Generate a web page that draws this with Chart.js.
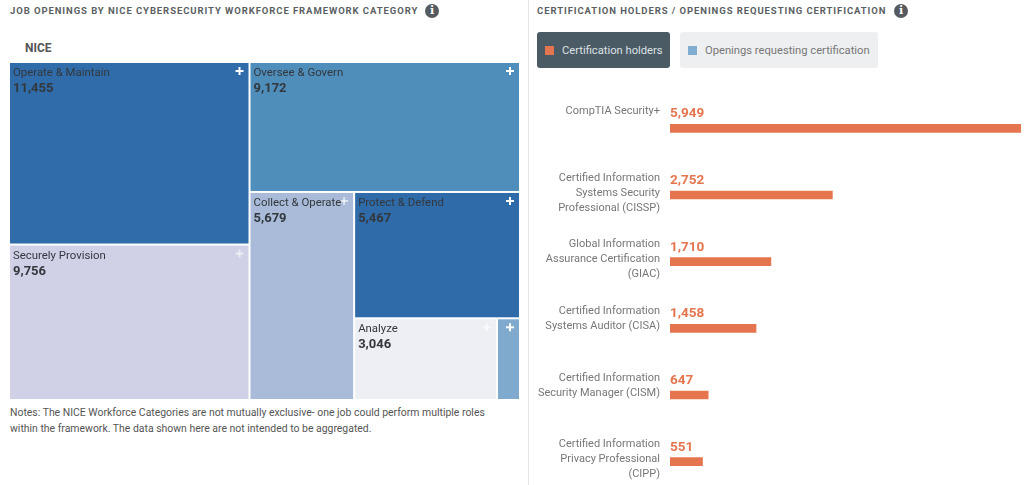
<!DOCTYPE html>
<html><head><meta charset="utf-8">
<script src="https://cdn.jsdelivr.net/npm/chart.js@4"></script>
<style>
html,body{margin:0;padding:0;background:#fff;width:1024px;height:485px;overflow:hidden;font-family:Roboto,sans-serif}
.abs{position:absolute;white-space:nowrap}
.title{font-size:9.5px;font-weight:700;letter-spacing:0.92px;color:#5b5f63;top:5px}
.info{width:14px;height:14px;border-radius:50%;background:#555b60;color:#fff;font:700 11px/14px "DejaVu Serif",serif;text-align:center;top:4px}
.btn{top:32px;height:36px;border-radius:3px;font-size:11.2px;line-height:37px}
.sw{width:9px;height:9px;top:46px}
canvas{position:absolute}
</style></head><body>
<div class="abs title" style="left:10px">JOB OPENINGS BY NICE CYBERSECURITY WORKFORCE FRAMEWORK CATEGORY</div>
<div class="abs info" style="left:425px">i</div>
<div class="abs" style="left:25px;top:41px;font-size:12px;font-weight:700;color:#555">NICE</div>
<div class="abs" style="left:10px;top:405px;font-size:10.45px;line-height:16px;color:#555">Notes: The NICE Workforce Categories are not mutually exclusive- one job could perform multiple roles<br>within the framework. The data shown here are not intended to be aggregated.</div>
<div class="abs" style="left:528px;top:0;width:1px;height:485px;background:#e6e6e6"></div>
<div class="abs title" style="left:537px">CERTIFICATION HOLDERS / OPENINGS REQUESTING CERTIFICATION</div>
<div class="abs info" style="left:894px">i</div>
<div class="abs btn" style="left:537px;width:133px;background:#4a5b66;color:#dde2e5"><span style="margin-left:25px">Certification holders</span></div>
<div class="abs sw" style="left:545px;background:#e5754f"></div>
<div class="abs btn" style="left:680px;width:198px;background:#eeeff1;color:#777"><span style="margin-left:25px">Openings requesting certification</span></div>
<div class="abs sw" style="left:688px;background:#7facd0"></div>
<canvas id="tree" style="left:9px;top:62px;width:511px;height:338px" width="511" height="338"></canvas>
<canvas id="bars" style="left:530px;top:95px;width:494px;height:400px" width="494" height="400"></canvas>
<script>
// Treemap data
const treeNames = ["Operate & Maintain","Securely Provision","Oversee & Govern","Collect & Operate","Protect & Defend","Analyze",""];
const treeValues = [11455,9756,9172,5679,5467,3046,490];
const treeColors = ["#2f6ca9","#d0d1e6","#4f8dba","#a9bbd8","#2e6ba8","#eeeef5","#80a9ce"];
const treePlusAlpha = [1,0.55,1,0.6,1,0.6,1];
// Bar data
const certLabels = [
  ["CompTIA Security+","",""],
  ["Certified Information","Systems Security","Professional (CISSP)"],
  ["Global Information","Assurance Certification","(GIAC)"],
  ["Certified Information","Systems Auditor (CISA)",""],
  ["Certified Information","Security Manager (CISM)",""],
  ["Certified Information","Privacy Professional","(CIPP)"]
];
const certHolders = [5949,2752,1710,1458,647,551];

// Slice-and-dice structure of the treemap: h = side by side, v = stacked
const treeShape = ['h',['v',0,1],['v',2,['h',3,['v',4,['h',5,6]]]]];
const sumOf = n => typeof n==='number' ? treeValues[n] : sumOf(n[1])+sumOf(n[2]);
const cells = [];
(function lay(n,x0,y0,x1,y1){
  if(typeof n==='number'){cells.push({i:n,x0,y0,x1,y1,x:x0,y:y0});return;}
  const f = sumOf(n[1])/sumOf(n);
  if(n[0]==='h'){const m=x0+(x1-x0)*f;lay(n[1],x0,y0,m,y1);lay(n[2],m,y0,x1,y1);}
  else{const m=y0+(y1-y0)*f;lay(n[1],x0,y0,x1,m);lay(n[2],x0,m,x1,y1);}
})(treeShape,0,0,1,1);

const treePlugin = {id:'treeCells',beforeDatasetsDraw(c){
  const g=c.ctx,sx=c.scales.x,sy=c.scales.y;
  cells.forEach(k=>{
    const l=sx.getPixelForValue(k.x0)+1,r=sx.getPixelForValue(k.x1)-1,
          t=sy.getPixelForValue(k.y0)+1,b=sy.getPixelForValue(k.y1)-1;
    g.fillStyle=treeColors[k.i];g.fillRect(l,t,r-l,b-t);
    g.save();g.globalAlpha=treePlusAlpha[k.i];g.fillStyle='#fff';
    const px=r-9,py=t+8;g.fillRect(px-4,py-1,8,2);g.fillRect(px-1,py-4,2,8);g.restore();
    if(treeNames[k.i]){
      g.textAlign='left';g.textBaseline='alphabetic';
      g.fillStyle='#33383d';g.font='11.4px Roboto';g.fillText(treeNames[k.i],l+3,t+13);
      g.font='700 13px Roboto';g.fillText(treeValues[k.i].toLocaleString('en-US'),l+3,t+29);
    }
  });
}};
new Chart(document.getElementById('tree'),{type:'scatter',
  data:{datasets:[{data:cells.map(k=>({x:k.x,y:k.y})),pointRadius:0}]},
  options:{responsive:false,animation:false,devicePixelRatio:1,layout:{padding:0},
    plugins:{legend:{display:false},tooltip:{enabled:false}},
    scales:{x:{display:false,min:0,max:1},y:{display:false,min:0,max:1,reverse:true}}},
  plugins:[treePlugin]});

const valuePlugin = {id:'values',afterDatasetsDraw(c){
  const g=c.ctx;g.font='700 13.5px Roboto';g.fillStyle='#e5754f';g.textAlign='left';g.textBaseline='middle';
  c.getDatasetMeta(0).data.forEach((b,i)=>g.fillText(certHolders[i].toLocaleString('en-US'),c.chartArea.left,b.y-14.5));
}};
new Chart(document.getElementById('bars'),{type:'bar',
  data:{labels:certLabels,datasets:[{label:'Certification holders',data:certHolders,backgroundColor:'#e5754f',barThickness:8}]},
  options:{indexAxis:'y',responsive:false,animation:false,devicePixelRatio:1,layout:{padding:{right:3,left:0,top:0,bottom:0}},
    plugins:{legend:{display:false},tooltip:{enabled:false}},
    scales:{
      x:{display:false,min:0,max:5949},
      y:{afterFit(s){s.width=140;s.paddingTop=0;s.paddingBottom=0;},grid:{display:false},border:{display:false},
        ticks:{autoSkip:false,color:'#777',padding:2,labelOffset:-2,font:{family:'Roboto',size:11,lineHeight:1.36}}}
    }},
  plugins:[valuePlugin]});
</script>
</body></html>
